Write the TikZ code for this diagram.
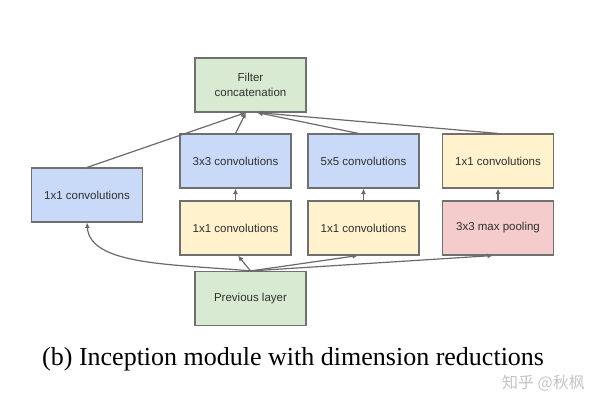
\documentclass[tikz,border=0pt]{standalone}
\usepackage{fontspec}
\setmainfont{Liberation Serif}
\newfontfamily\boxfont{Liberation Sans}
\newfontfamily\cjk{Noto Sans CJK SC}
\usetikzlibrary{arrows.meta}
\definecolor{convblue}{HTML}{C9DAF8}
\definecolor{reduceyellow}{HTML}{FFF2CC}
\definecolor{concatgreen}{HTML}{D9EAD3}
\definecolor{poolpink}{HTML}{F4CCCC}
\definecolor{boxline}{HTML}{707070}
\definecolor{linkgrey}{HTML}{6A6A6A}
\definecolor{boxtext}{HTML}{303030}
\definecolor{markgrey}{HTML}{C4C4C4}

\begin{document}
\begin{tikzpicture}
[x=1pt,y=-1pt,%
  every node/.style={font=\boxfont\fontsize{11.5}{15}\selectfont,text=boxtext},%
  layer/.style={shape=rectangle,draw=boxline,line width=1.1pt,inner sep=0pt,%
    minimum width=111pt,minimum height=54pt,align=center},%
  link/.style={draw=linkgrey,line width=1.2pt,-{Latex[length=5.5pt,width=5pt]}}]
\useasboundingbox (0,0) rectangle (598,403);
\node[layer,fill=concatgreen] (concat) at (250.5,85) {Filter\\concatenation};
\node[layer,fill=convblue] (conv1a) at (87,195) {1x1 convolutions};
\node[layer,fill=convblue] (conv3) at (235.5,161) {3x3 convolutions};
\node[layer,fill=convblue] (conv5) at (363.5,161) {5x5 convolutions};
\node[layer,fill=reduceyellow] (conv1d) at (498,161) {1x1 convolutions};
\node[layer,fill=reduceyellow] (reduce3) at (235.5,228) {1x1 convolutions};
\node[layer,fill=reduceyellow] (reduce5) at (363.5,228) {1x1 convolutions};
\node[layer,fill=poolpink] (pool) at (498,228) {3x3 max pooling};
\node[layer,fill=concatgreen] (prev) at (250.5,298.5) {Previous layer};
\coordinate (inleft) at ([xshift=-4.5pt]concat.south);
\coordinate (inright) at ([xshift=6.5pt]concat.south);
\draw[link] (conv1a.north) -- (inleft);
\draw[link] (conv3.north) -- (inleft);
\draw[link] ([xshift=-5pt]conv5.north) -- (inright);
\draw[link] (conv1d.north) -- (inright);
\draw[link] (reduce3) -- (conv3);
\draw[link] (reduce5) -- (conv5);
\draw[link] (pool) -- (conv1d);
\draw[link] (prev.north) .. controls (175,264) and (90,266) .. (conv1a.south);
\draw[link] (prev.north) -- ([xshift=2.5pt]reduce3.south);
\draw[link] (prev.north) -- ([xshift=-5.5pt]reduce5.south);
\draw[link] (prev.north) -- ([xshift=-5pt]pool.south);
\node[font=\fontsize{26}{30}\selectfont,text=black,anchor=base west,inner sep=0pt]
  (caption) at (42,366) {(b) Inception module with dimension reductions};
\node[font=\cjk\fontsize{16}{18}\selectfont,text=markgrey,anchor=base east,inner sep=0pt]
  (mark) at (585,389) {知乎 @秋枫};
\end{tikzpicture}
\end{document}
